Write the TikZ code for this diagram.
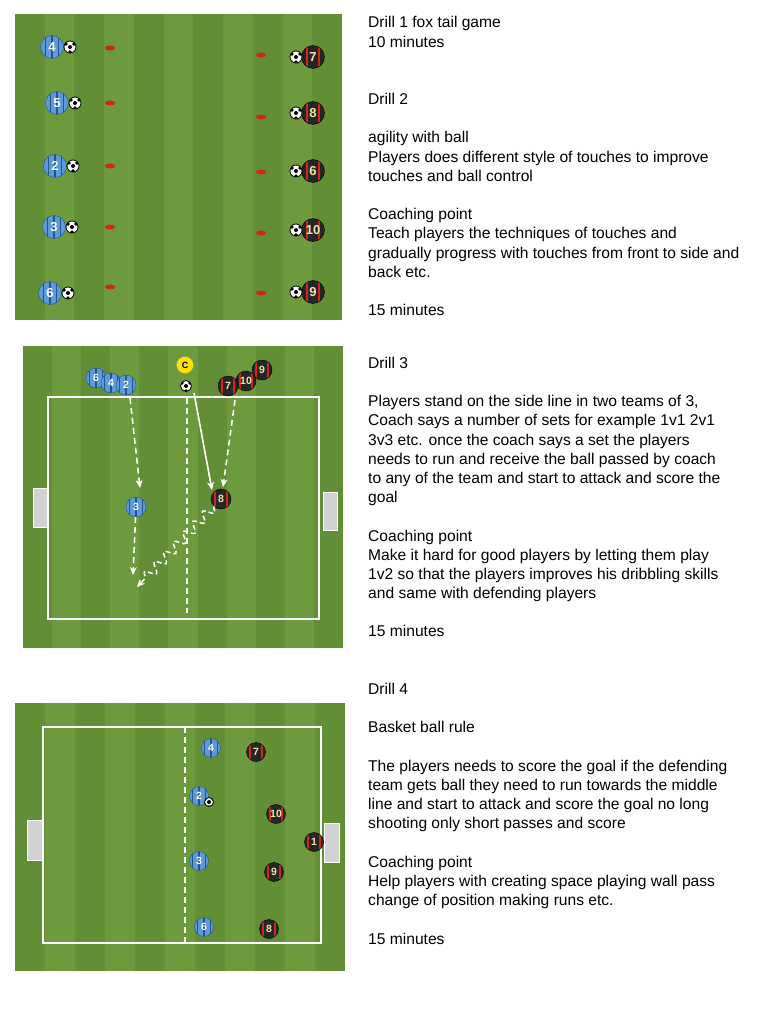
\documentclass[tikz,border=0pt]{standalone}
\usepackage{fontspec}
\setmainfont{Liberation Sans}
\setsansfont{Liberation Sans}
\usetikzlibrary{decorations.pathmorphing,arrows.meta,shapes.geometric}
\definecolor{gA}{HTML}{6C9A3D}
\definecolor{gB}{HTML}{628F36}
\definecolor{bluec}{HTML}{5A9BD8}
\definecolor{bluedk}{HTML}{24558F}
\definecolor{redc}{HTML}{D0261E}
\definecolor{cream}{HTML}{F3E2A8}
\newcommand{\pitch}[4]{%
  \fill[gA] (#1,#2) rectangle (#3,#4);
  \pgfmathsetmacro{\sw}{(#3-#1)/11}
  \foreach \k in {0,2,...,10}{\fill[gB] ({#1+\k*\sw},#2) rectangle ({#1+(\k+1)*\sw},#4);}
}
\tikzset{
  bpl/.style={circle,inner sep=0pt,minimum size=#1,fill=bluec,draw=bluedk,text=white,font=\sffamily\bfseries\fontsize{13}{13}\selectfont,
    path picture={\foreach \i in {-2,0,2}{\draw[bluedk,line width=1.6pt] ([xshift=\i*3.2pt]path picture bounding box.north) -- ([xshift=\i*3.2pt]path picture bounding box.south);}}},
  bpl/.default=23pt,
  rpl/.style={circle,inner sep=0pt,minimum size=#1,fill=black!85,draw=black,text=cream,font=\sffamily\bfseries\fontsize{13}{13}\selectfont,
    path picture={\foreach \i in {-2,2}{\draw[redc,line width=2.6pt] ([xshift=\i*3pt]path picture bounding box.north) -- ([xshift=\i*3pt]path picture bounding box.south);}}},
  rpl/.default=23pt,
  sm/.style={font=\sffamily\bfseries\fontsize{10.5}{11}\selectfont},
  ball/.style={circle,inner sep=0pt,minimum size=12pt,fill=white,draw=black,line width=0.8pt,
    path picture={\fill[black] (path picture bounding box.center) circle (2pt);
      \fill[black] ([xshift=-4pt,yshift=3pt]path picture bounding box.center) circle (1.8pt);
      \fill[black] ([xshift=4pt,yshift=3pt]path picture bounding box.center) circle (1.8pt);
      \fill[black] ([yshift=-5pt]path picture bounding box.center) circle (1.8pt);}},
  cone/.style={ellipse,inner sep=0pt,minimum width=10pt,minimum height=5pt,fill=redc},
  goal/.style={draw=white,fill=gray!35,line width=1pt},
  txt/.style={anchor=base west,inner sep=0pt,font=\fontsize{15.6}{17}\selectfont},
  run/.style={draw=white,line width=1.6pt,dashed,dash pattern=on 6pt off 4pt,-{Stealth[length=8pt,width=7pt]}},
  pass/.style={draw=white,line width=1.6pt,-{Stealth[length=8pt,width=7pt]}},
  drib/.style={draw=white,line width=1.5pt,dash pattern=on 5pt off 3pt,decorate,decoration={snake,amplitude=5pt,segment length=14pt,post length=8pt},-{Stealth[length=8pt,width=7pt]}},
}
\begin{document}
\begin{tikzpicture}[x=1pt,y=-1pt]
\useasboundingbox (0,0) rectangle (768,1024);
\fill[white] (0,0) rectangle (768,1024);
% ---------- Drill 1 pitch
\pitch{15}{14}{342}{320}
\foreach \y/\n/\bx/\cone/\ry/\rn/\cb in {47/4/52/48/57/7/55, 103/5/57/103/113/8/117, 166/2/55/166/171/6/172, 227/3/54/227/230/10/233, 293/6/50/287/292/9/293}{
  \node[bpl] (b\n) at (\bx,\y) {\n};
  \node[ball] (bb\n) at (\bx+18,\y) {};
  \node[cone] (c\n) at (110,\cone) {};
  \node[cone] (d\n) at (261,\cb) {};
  \node[rpl] (r\rn) at (313,\ry) {\rn};
  \node[ball] (rb\rn) at (296,\ry) {};
}
% ---------- Drill 3 pitch
\pitch{23}{346}{343}{648}
\draw[white,line width=1.6pt] (48,397) rectangle (319,619);
\draw[goal] (33,488) rectangle (47,527);
\draw[goal] (323,492) rectangle (337,530);
\coordinate (ct) at (187,398); \coordinate (cb) at (187,613);
\draw[white,line width=1.6pt,dashed,dash pattern=on 6pt off 4pt] (ct) -- (cb);
\node[bpl=20pt,sm] (p6) at (96,378) {6};
\node[bpl=20pt,sm] (p4) at (111,383) {4};
\node[bpl=20pt,sm] (p2) at (126,385) {2};
\node[circle,fill=yellow!85!orange,draw=yellow!60!black,minimum size=17pt,inner sep=0pt,font=\sffamily\bfseries\small] (co) at (185,365) {C};
\node[ball,minimum size=11pt] (ball3) at (186,386) {};
\node[rpl=20pt,sm] (q9) at (262,370) {9};
\node[rpl=20pt,sm] (q10) at (246,381) {10};
\node[rpl=20pt,sm] (q7) at (228,386) {7};
\node[bpl=20pt,sm] (p3) at (136,507) {3};
\node[rpl=20pt,sm] (q8) at (221,499) {8};
\coordinate (a1) at (130,398); \coordinate (a1e) at (140,488);
\draw[run] (a1) -- (a1e);
\coordinate (a2e) at (133,575);
\draw[run] (p3) -- (a2e);
\coordinate (a3) at (194,393); \coordinate (a3e) at (212,490);
\draw[pass] (a3) -- (a3e);
\coordinate (a4) at (235,400); \coordinate (a4e) at (223,487);
\draw[run] (a4) -- (a4e);
\coordinate (a5e) at (137,587);
\draw[drib] (q8) -- (a5e);
% ---------- Drill 4 pitch
\pitch{15}{703}{345}{971}
\draw[white,line width=1.6pt] (43,727) rectangle (321,943);
\draw[goal] (27,820) rectangle (42,860);
\draw[goal] (324,823) rectangle (339,862);
\coordinate (mt) at (185,727); \coordinate (mb) at (185,943);
\draw[white,line width=1.6pt,dashed,dash pattern=on 6pt off 4pt] (mt) -- (mb);
\node[bpl=19pt,sm] (s4) at (211,748) {4};
\node[rpl=19pt,sm] (t7) at (256,752) {7};
\node[bpl=19pt,sm] (s2) at (199,796) {2};
\node[ball,minimum size=9pt] (s2b) at (209,802) {};
\node[rpl=19pt,sm] (t10) at (276,814) {10};
\node[rpl=19pt,sm] (t1) at (314,842) {1};
\node[bpl=19pt,sm] (s3) at (199,861) {3};
\node[rpl=19pt,sm] (t9) at (274,872) {9};
\node[bpl=19pt,sm] (s6) at (204,927) {6};
\node[rpl=19pt,sm] (t8) at (269,929) {8};
% ---------- Texts
\foreach \y/\t in {
22/Drill 1 fox tail game, 42/10 minutes, 99/Drill 2, 137/agility with ball,
157/Players does different style of touches to improve, 176/touches and ball control,
214/Coaching point, 233/Teach players the techniques of touches and,
253/gradually progress with touches from front to side and, 272/back etc., 310/15 minutes,
363/Drill 3, 401/{Players stand on the side line in two teams of 3,},
420/Coach says a number of sets for example 1v1 2v1,
440/3v3 etc. once the coach says a set the players,
459/needs to run and receive the ball passed by coach,
478/to any of the team and start to attack and score the, 497/goal,
536/Coaching point, 555/Make it hard for good players by letting them play,
574/1v2 so that the players improves his dribbling skills,
593/and same with defending players, 631/15 minutes,
689/Drill 4, 727/Basket ball rule,
766/The players needs to score the goal if the defending,
785/team gets ball they need to run towards the middle,
804/line and start to attack and score the goal no long,
823/shooting only short passes and score,
862/Coaching point, 881/Help players with creating space playing wall pass,
900/change of position making runs etc., 939/15 minutes}{
  \node[txt] at (368,\y+5.5) {\t};
}
\end{tikzpicture}
\end{document}
